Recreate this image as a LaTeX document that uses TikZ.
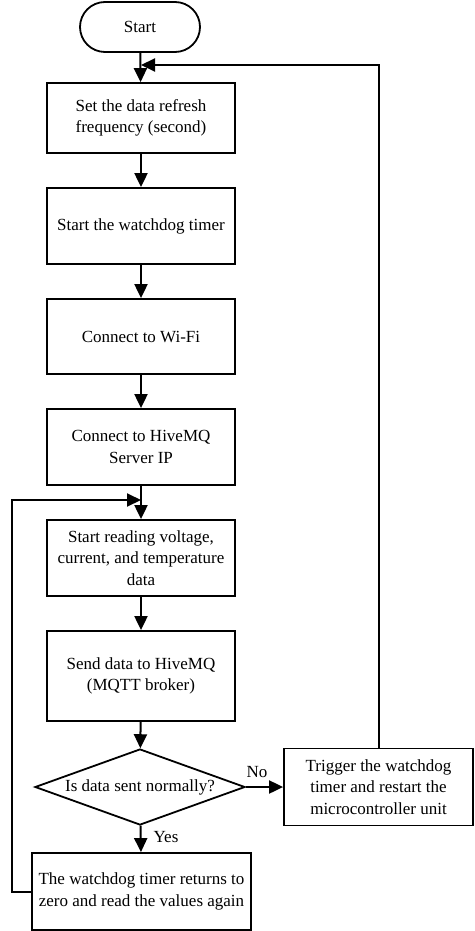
\documentclass[tikz,border=0pt]{standalone}
\usepackage{fontspec}
\setmainfont{Liberation Serif}
\usetikzlibrary{arrows.meta,shapes.geometric}
\begin{document}
\begin{tikzpicture}[x=1pt,y=-1pt,
  every node/.style={font=\fontsize{17}{21.5}\selectfont},
  proc/.style={draw,line width=1.8pt,align=center,inner sep=0pt,minimum width=188pt},
  term/.style={draw,line width=1.8pt,rounded corners=25pt,minimum width=120pt,minimum height=50pt,inner sep=0pt},
  dec/.style={draw,line width=1.8pt,diamond,aspect=2.76,inner sep=0pt,minimum width=210pt,minimum height=76pt},
  arr/.style={line width=2pt,-{Triangle[length=14pt,width=13pt]}},
  lbl/.style={inner sep=0pt}]
\useasboundingbox (0,0) rectangle (474,931);
\node[term] (start) at (140,27) {Start};
\node[proc,minimum height=70pt] (b1) at (141,118) {Set the data refresh\\frequency (second)};
\node[proc,minimum height=76pt] (b2) at (141,226) {Start the watchdog timer};
\node[proc,minimum height=75pt] (b3) at (141,336.5) {Connect to Wi-Fi};
\node[proc,minimum height=76pt] (b4) at (141,447) {Connect to HiveMQ\\Server IP};
\node[proc,minimum height=76pt] (b5) at (141,558) {Start reading voltage,\\current, and temperature\\data};
\node[proc,minimum height=90pt] (b6) at (141,676) {Send data to HiveMQ\\(MQTT broker)};
\node[dec] (d) at (140,787) {Is data sent normally?};
\node[proc,minimum width=189pt,minimum height=77pt] (r) at (378.5,787) {Trigger the watchdog\\timer and restart the\\microcontroller unit};
\node[proc,minimum width=219pt,minimum height=77pt] (b7) at (141.5,891.5) {The watchdog timer returns to\\zero and read the values again};
\coordinate (top1) at (141,65);
\coordinate (top2) at (141,500);
\draw[arr] (start) -- (b1);
\draw[arr] (b1) -- (b2);
\draw[arr] (b2) -- (b3);
\draw[arr] (b3) -- (b4);
\draw[arr] (b4) -- (b5);
\draw[arr] (b5) -- (b6);
\draw[arr] (b6) -- (d);
\draw[arr] (d.east) -- (r.west);
\draw[arr] (d) -- (b7);
\draw[arr] (r.north) |- (top1);
\draw[arr] (b7.west) -- ++(-19,0) |- (top2);
\node[lbl] (no) at (257,772) {No};
\node[lbl] (yes) at (166,837) {Yes};
\end{tikzpicture}
\end{document}
